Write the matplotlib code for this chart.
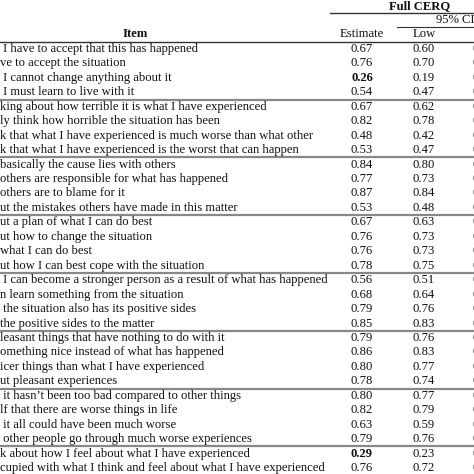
import matplotlib
matplotlib.use('Agg')
import matplotlib.pyplot as plt

items = [
    " I have to accept that this has happened",
    "ve to accept the situation",
    " I cannot change anything about it",
    " I must learn to live with it",
    "king about how terrible it is what I have experienced",
    "ly think how horrible the situation has been",
    "k that what I have experienced is much worse than what other",
    "k that what I have experienced is the worst that can happen",
    "basically the cause lies with others",
    "others are responsible for what has happened",
    "others are to blame for it",
    "ut the mistakes others have made in this matter",
    "ut a plan of what I can do best",
    "ut how to change the situation",
    "what I can do best",
    "ut how I can best cope with the situation",
    " I can become a stronger person as a result of what has happened",
    "n learn something from the situation",
    " the situation also has its positive sides",
    "the positive sides to the matter",
    "leasant things that have nothing to do with it",
    "omething nice instead of what has happened",
    "icer things than what I have experienced",
    "ut pleasant experiences",
    " it hasn\u2019t been too bad compared to other things",
    "lf that there are worse things in life",
    " it all could have been much worse",
    " other people go through much worse experiences",
    "k about how I feel about what I have experienced",
    "cupied with what I think and feel about what I have experienced",
]
estimate = [0.67, 0.76, 0.26, 0.54, 0.67, 0.82, 0.48, 0.53,
            0.84, 0.77, 0.87, 0.53, 0.67, 0.76, 0.76, 0.78,
            0.56, 0.68, 0.79, 0.85, 0.79, 0.86, 0.80, 0.78,
            0.80, 0.82, 0.63, 0.79, 0.29, 0.76]
low = [0.60, 0.70, 0.19, 0.47, 0.62, 0.78, 0.42, 0.47,
       0.80, 0.73, 0.84, 0.48, 0.63, 0.73, 0.73, 0.75,
       0.51, 0.64, 0.76, 0.83, 0.76, 0.83, 0.77, 0.74,
       0.77, 0.79, 0.59, 0.76, 0.23, 0.72]
bold_idx = [2, 28]
group_size = 4

W = H = 474
fig = plt.figure(figsize=(4.74, 4.74), dpi=100)
ax = fig.add_axes([0, 0, 1, 1])
ax.set_xlim(0, W)
ax.set_ylim(H, 0)
ax.axis('off')

font = dict(family='Liberation Serif', fontsize=9.1, color='#111111')

# header
ax.text(420, 6, 'Full CERQ', ha='center', va='center', fontweight='bold', **font)
ax.plot([330, 474], [12.5, 12.5], color='#333333', lw=1)
ax.text(455, 20, '95% CI', ha='center', va='center', **font)
ax.plot([397, 474], [26.5, 26.5], color='#333333', lw=0.8)
ax.text(135, 34, 'Item', ha='center', va='center', fontweight='bold', **font)
ax.text(362, 34, 'Estimate', ha='center', va='center', **font)
ax.text(424, 34, 'Low', ha='center', va='center', **font)
ax.plot([0, 474], [41.5, 41.5], color='#333333', lw=1)

y0, dy = 49, 14.45
for i, (txt, est, lo) in enumerate(zip(items, estimate, low)):
    y = y0 + i * dy
    ax.text(0, y, txt, ha='left', va='center', **font)
    ax.text(362, y, f'{est:.2f}', ha='center', va='center',
            fontweight='bold' if i in bold_idx else 'normal', **font)
    ax.text(424, y, f'{lo:.2f}', ha='center', va='center', **font)
    # the next column is cut off at the right edge, as in the source image
    ax.text(476, y, '0', ha='center', va='center', **font)
    if (i + 1) % group_size == 0 and i < len(items) - 1:
        ys = y + dy / 2
        ax.plot([0, 474], [ys, ys], color='#888888', lw=1.6)

fig.savefig('out.png', dpi=100)
